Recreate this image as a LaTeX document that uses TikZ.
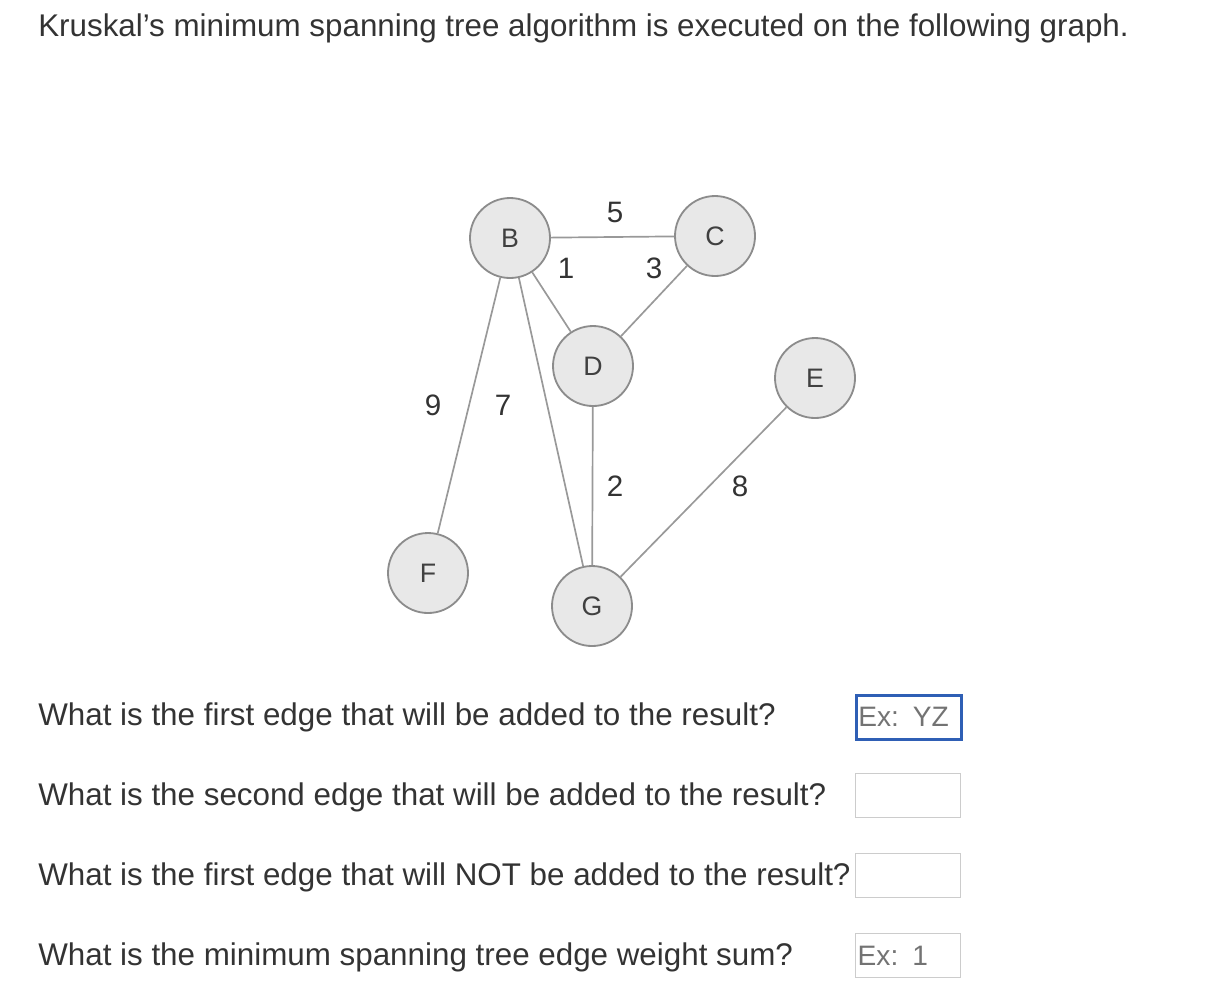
\documentclass[tikz,border=0pt]{standalone}
\usepackage{fontspec}
\setmainfont{Liberation Sans}
\definecolor{boxblue}{HTML}{2F5FB5}
\begin{document}
\begin{tikzpicture}[x=0.025cm,y=-0.025cm,
  vert/.style={circle,draw=black!45,fill=black!9,line width=1.3pt,minimum size=80*0.025cm,inner sep=0pt,font=\fontsize{19}{22}\selectfont,text=black!75},
  edge/.style={draw=black!40,line width=1.2pt},
  wt/.style={font=\fontsize{21}{24}\selectfont,text=black!80},
  qtext/.style={anchor=west,font=\fontsize{22.3}{26}\selectfont,text=black!80,inner sep=0pt},
  ansbox/.style={draw=black!20,line width=1pt,minimum width=105*0.025cm,minimum height=44*0.025cm,anchor=north west,inner sep=1pt,font=\fontsize{20}{23}\selectfont,text=black!55}]
\useasboundingbox (0,0) rectangle (1220,1002);
\node[qtext] (title) at (38,28) {Kruskal's minimum spanning tree algorithm is executed on the following graph.};
\node[vert] (B) at (510,238) {B};
\node[vert] (C) at (715,236) {C};
\node[vert] (D) at (593,366) {D};
\node[vert] (E) at (815,378) {E};
\node[vert] (F) at (428,573) {F};
\node[vert] (G) at (592,606) {G};
\draw[edge] (B) -- (C);
\draw[edge] (B) -- (D);
\draw[edge] (C) -- (D);
\draw[edge] (B) -- (F);
\draw[edge] (B) -- (G);
\draw[edge] (D) -- (G);
\draw[edge] (G) -- (E);
\node[wt] (w5) at (615,212) {5};
\node[wt] (w1) at (566,268) {1};
\node[wt] (w3) at (654,268) {3};
\node[wt] (w9) at (433,405) {9};
\node[wt] (w7) at (503,405) {7};
\node[wt] (w2) at (615,486) {2};
\node[wt] (w8) at (740,486) {8};
\node[qtext] (q1) at (38,717) {What is the first edge that will be added to the result?};
\node[qtext] (q2) at (38,797) {What is the second edge that will be added to the result?};
\node[qtext] (q3) at (38,877) {What is the first edge that will NOT be added to the result?};
\node[qtext] (q4) at (38,957) {What is the minimum spanning tree edge weight sum?};
\node[ansbox,draw=boxblue,line width=1.8pt,align=left,text width=101*0.025cm] (a1) at (855,694) {Ex: YZ};
\node[ansbox] (a2) at (855,773) {};
\node[ansbox] (a3) at (855,853) {};
\node[ansbox,align=left,text width=101*0.025cm] (a4) at (855,933) {Ex: 1};
\end{tikzpicture}
\end{document}
